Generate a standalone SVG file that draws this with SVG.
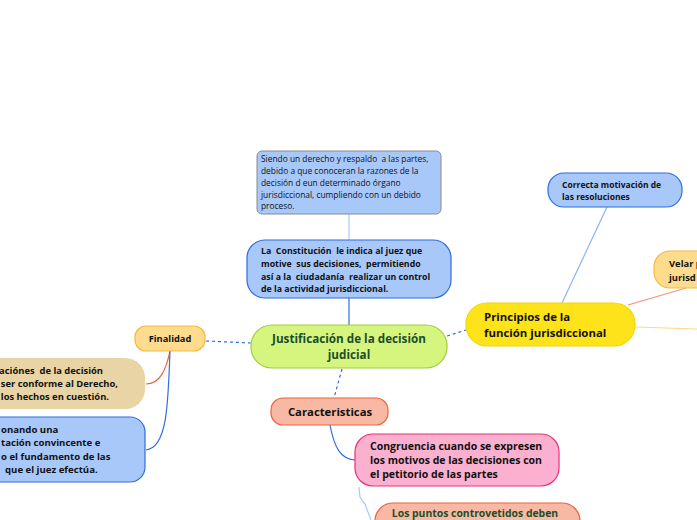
<svg xmlns="http://www.w3.org/2000/svg" width="697" height="520" viewBox="0 0 697 520">
<style>
text{font-family:"Open Sans","Noto Sans","Liberation Sans",sans-serif;fill:#111;white-space:pre}
.b{font-weight:bold}
.blue{fill:#a8c8fa;stroke:#2f6de0;stroke-width:1.2}
.orange{fill:#ffdb8e;stroke:#f5b940;stroke-width:1.2}
.salmon{fill:#f8b9a4;stroke:#f0603a;stroke-width:1.2}
.dash{fill:none;stroke:#2f6de0;stroke-width:1.2;stroke-dasharray:3 3}
.line{fill:none;stroke-width:1.2}
</style>
<rect width="697" height="520" fill="#fff"/>
<g id="connectors">
  <line class="line" x1="349" y1="214" x2="349" y2="240" stroke="#a8c8fa" stroke-width="1.5"/>
  <line class="line" x1="349" y1="298" x2="349" y2="325" stroke="#2f6de0"/>
  <path class="dash" d="M447,336 L466,330"/>
  <path class="dash" d="M206,341 L251,343"/>
  <path class="dash" d="M342,369 L334,398"/>
  <line class="line" x1="562" y1="303" x2="607" y2="207" stroke="#8ab4f0"/>
  <line class="line" x1="628" y1="305" x2="686" y2="288" stroke="#f59078"/>
  <line class="line" x1="635" y1="327" x2="697" y2="329" stroke="#fbd98a" stroke-width="1.5"/>
  <path class="line" d="M170,351 C166,370 160,384 146,384" stroke="#f0603a"/>
  <path class="line" d="M170,351 C168,400 168,448 146,450" stroke="#2f6de0"/>
  <path class="line" d="M330,425 C334,446 340,460 356,460" stroke="#2f6de0"/>
  <path class="line" d="M359,487 L360,497 Q362,501 365,504 L371,520" stroke="#a8c8fa" stroke-width="1.5"/>
</g>
<g id="top-note">
  <rect x="257" y="151" width="184" height="63" rx="5" fill="#a8c8fa" stroke="#8a8a8a" stroke-width="1"/>
  <text x="261" y="162" font-size="8.4">Siendo un derecho y respaldo  a las partes,</text>
  <text x="261" y="174" font-size="8.4">debido a que conoceran la razones de la</text>
  <text x="261" y="186" font-size="8.4">decisión d eun determinado órgano</text>
  <text x="261" y="198" font-size="8.4">jurisdiccional, cumpliendo con un debido</text>
  <text x="261" y="209" font-size="8.4">proceso.</text>
</g>
<g id="constitucion">
  <rect class="blue" x="247" y="240" width="204" height="58" rx="18"/>
  <text class="b" x="261" y="254" font-size="8.8">La  Constitución  le indica al juez que</text>
  <text class="b" x="261" y="267" font-size="8.8">motive  sus decisiones,  permitiendo</text>
  <text class="b" x="261" y="280" font-size="8.8">así a la  ciudadanía  realizar un control</text>
  <text class="b" x="261" y="292" font-size="8.8">de la actividad jurisdiccional.</text>
</g>
<g id="central">
  <rect x="251" y="325" width="196" height="43" rx="21" fill="#d6f57e" stroke="#a2cc3c" stroke-width="1.2"/>
  <text class="b" x="349" y="343" font-size="11.7" text-anchor="middle" style="fill:#1d4d2a">Justificación de la decisión</text>
  <text class="b" x="349" y="359" font-size="11.7" text-anchor="middle" style="fill:#1d4d2a">judicial</text>
</g>
<g id="principios">
  <rect x="466" y="303" width="169" height="43" rx="21" fill="#ffe31a" stroke="#f2d600" stroke-width="1.2"/>
  <text class="b" x="484" y="321" font-size="11.4">Principios de la</text>
  <text class="b" x="484" y="337" font-size="11.4">función jurisdiccional</text>
</g>
<g id="correcta">
  <rect class="blue" x="548" y="173" width="134" height="34" rx="16"/>
  <text class="b" x="562" y="188" font-size="8.5">Correcta motivación de</text>
  <text class="b" x="562" y="200" font-size="8.5">las resoluciones</text>
</g>
<g id="velar">
  <rect class="orange" x="654" y="251" width="80" height="37" rx="16"/>
  <text class="b" x="669" y="267" font-size="9.4">Velar p</text>
  <text class="b" x="669" y="281" font-size="9.4">jurisd</text>
</g>
<g id="finalidad">
  <rect class="orange" x="135" y="326" width="70" height="25" rx="11"/>
  <text class="b" x="170" y="342" font-size="9.3" text-anchor="middle">Finalidad</text>
</g>
<g id="motivaciones">
  <rect x="-60" y="358" width="205" height="51" rx="20" fill="#e8d4a4"/>
  <text class="b" x="103" y="374" font-size="9.4" text-anchor="end">aciónes  de la decisión</text>
  <text class="b" x="118" y="387" font-size="9.4" text-anchor="end">ser conforme al Derecho,</text>
  <text class="b" x="109" y="400" font-size="9.4" text-anchor="end">los hechos en cuestión.</text>
</g>
<g id="fundamentacion">
  <rect class="blue" x="-60" y="417" width="205" height="65" rx="15"/>
  <text class="b" x="1" y="433" font-size="9.6">onando una</text>
  <text class="b" x="1" y="446" font-size="9.6">tación convincente e</text>
  <text class="b" x="1" y="460" font-size="9.6">o el fundamento de las</text>
  <text class="b" x="5" y="473" font-size="9.6">que el juez efectúa.</text>
</g>
<g id="caracteristicas">
  <rect class="salmon" x="271" y="398" width="117" height="27" rx="12"/>
  <text class="b" x="330" y="416" font-size="11.3" text-anchor="middle">Caracteristicas</text>
</g>
<g id="congruencia">
  <rect x="355" y="434" width="204" height="52" rx="18" fill="#fbb0d0" stroke="#e8307a" stroke-width="1.2"/>
  <text class="b" x="370" y="450" font-size="10.5">Congruencia cuando se expresen</text>
  <text class="b" x="370" y="464" font-size="10.5">los motivos de las decisiones con</text>
  <text class="b" x="370" y="478" font-size="10.5">el petitorio de las partes</text>
</g>
<g id="puntos">
  <rect class="salmon" x="375" y="503" width="205" height="40" rx="18"/>
  <text class="b" x="475" y="517" font-size="10.4" text-anchor="middle" style="fill:#1d4d2a">Los puntos controvetidos deben</text>
</g>
</svg>
